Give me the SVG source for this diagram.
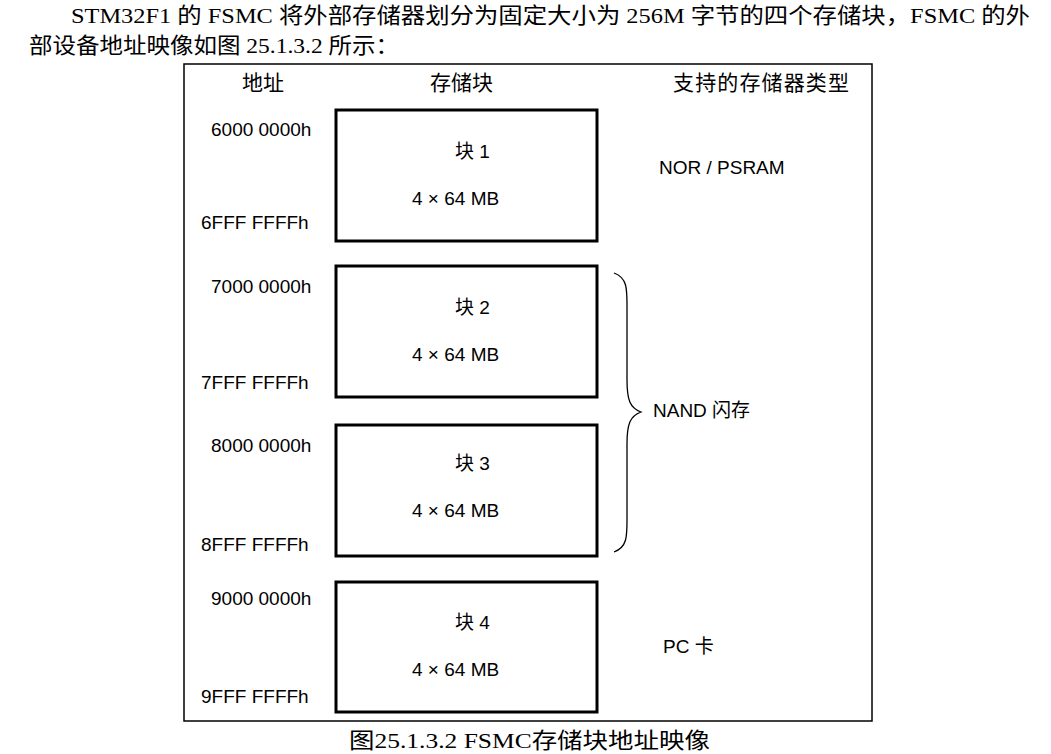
<svg xmlns="http://www.w3.org/2000/svg" width="1051" height="754" viewBox="0 0 1051 754">
<style>
.t{font-family:"Liberation Serif","Noto Sans CJK SC",serif;font-size:22px;fill:#000}
.s{font-family:"Liberation Sans","Noto Sans CJK SC",sans-serif;font-size:19px;fill:#000}
.h{font-family:"Liberation Sans","Noto Sans CJK SC",sans-serif;font-size:21px;fill:#000}
.blk{fill:#fff;stroke:#000;stroke-width:3}
</style>
<rect width="1051" height="754" fill="#fff"/>
<text class="t" x="71" y="23" textLength="959" lengthAdjust="spacingAndGlyphs">STM32F1 的 FSMC 将外部存储器划分为固定大小为 256M 字节的四个存储块，FSMC 的外</text>
<text class="t" x="29" y="53" textLength="370" lengthAdjust="spacingAndGlyphs">部设备地址映像如图 25.1.3.2 所示：</text>
<rect x="184" y="64" width="688" height="657" fill="none" stroke="#000" stroke-width="1.5"/>
<text class="h" x="242" y="90">地址</text>
<text class="h" x="430" y="90">存储块</text>
<text class="h" x="673" y="90" textLength="176">支持的存储器类型</text>
<g id="block1"><rect class="blk" x="336" y="110" width="261" height="131"/>
<text class="s" x="455" y="158">块 1</text><text class="s" x="412" y="205">4 × 64 MB</text></g>
<g id="block2"><rect class="blk" x="336" y="266" width="261" height="131"/>
<text class="s" x="455" y="314">块 2</text><text class="s" x="412" y="361">4 × 64 MB</text></g>
<g id="block3"><rect class="blk" x="336" y="425" width="261" height="131"/>
<text class="s" x="455" y="470">块 3</text><text class="s" x="412" y="517">4 × 64 MB</text></g>
<g id="block4"><rect class="blk" x="336" y="582" width="261" height="130"/>
<text class="s" x="455" y="629">块 4</text><text class="s" x="412" y="676">4 × 64 MB</text></g>
<g id="addr">
<text class="s" x="211" y="136">6000 0000h</text><text class="s" x="201" y="229">6FFF FFFFh</text>
<text class="s" x="211" y="293">7000 0000h</text><text class="s" x="201" y="389">7FFF FFFFh</text>
<text class="s" x="211" y="452">8000 0000h</text><text class="s" x="201" y="551">8FFF FFFFh</text>
<text class="s" x="211" y="605">9000 0000h</text><text class="s" x="201" y="703">9FFF FFFFh</text>
</g>
<text class="s" x="659" y="174">NOR / PSRAM</text>
<text class="s" x="653" y="417">NAND 闪存</text>
<text class="s" x="663" y="653">PC 卡</text>
<g id="connectors"><path d="M614,273 C628,278 627,290 627,310 L627,380 C627,400 630,408 641,412 C630,416 627,424 627,444 L627,515 C627,535 628,547 614,552" fill="none" stroke="#000" stroke-width="1.3"/></g>
<text class="t" x="349" y="748" textLength="361" lengthAdjust="spacingAndGlyphs">图25.1.3.2 FSMC存储块地址映像</text>
</svg>
